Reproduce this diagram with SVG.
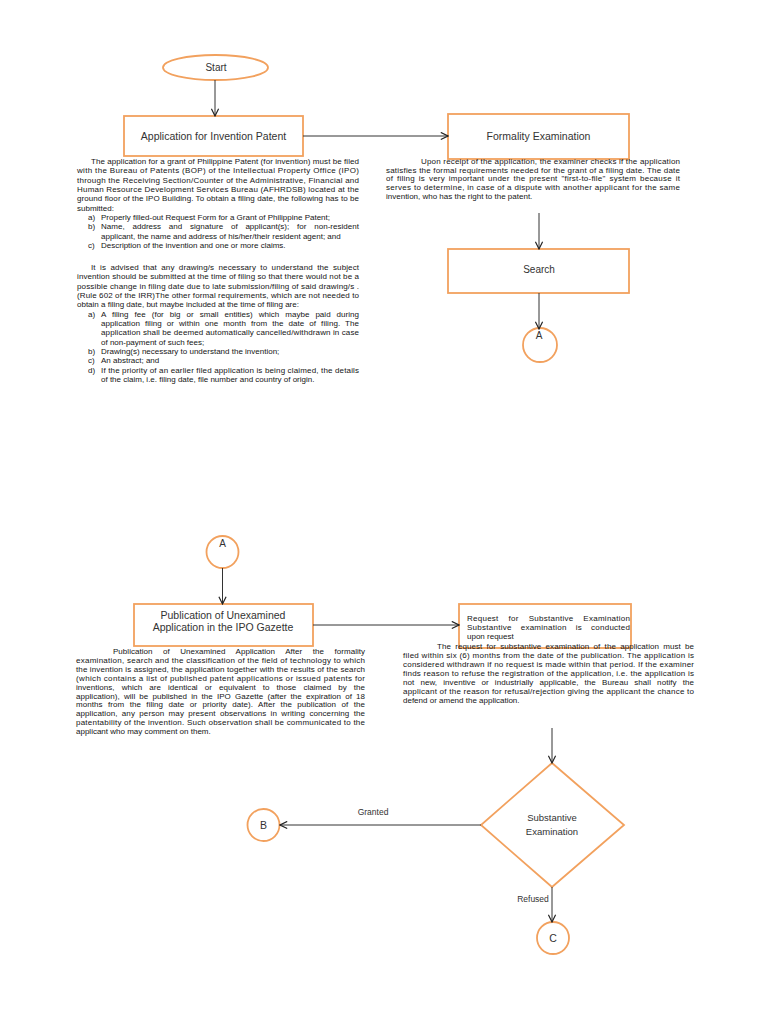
<svg xmlns="http://www.w3.org/2000/svg" width="768" height="1024" viewBox="0 0 768 1024">
<style>
.shape{fill:#fff;stroke:#F2A15E;stroke-width:1.8}
.lbl{font-family:"Liberation Sans",Arial,sans-serif;fill:#333;text-anchor:middle}
.p{font-family:"Liberation Sans",Arial,sans-serif;font-size:8px;fill:#151515}
.c{stroke:#333;stroke-width:1;fill:none;marker-end:url(#arr)}
.cl{font-family:"Liberation Sans",Arial,sans-serif;font-size:8.5px;fill:#333;text-anchor:middle}
</style>
<defs>
<marker id="arr" viewBox="0 0 10 10" refX="9" refY="5" markerWidth="9" markerHeight="9" markerUnits="userSpaceOnUse" orient="auto">
<path d="M1,1 L9,5 L1,9" fill="none" stroke="#222" stroke-width="1.3"/>
</marker>
</defs>
<rect width="768" height="1024" fill="#fff"/>

<g id="start">
<ellipse class="shape" cx="215.5" cy="67.5" rx="52.5" ry="12.5"/>
<text class="lbl" x="216" y="71" font-size="10">Start</text>
</g>
<g id="application">
<rect class="shape" x="124" y="116" width="179" height="40"/>
<text class="lbl" x="213.5" y="140" font-size="10.5">Application for Invention Patent</text>
</g>
<g id="formality">
<rect class="shape" x="448" y="114" width="181" height="45"/>
<text class="lbl" x="538.5" y="140" font-size="10.5">Formality Examination</text>
</g>
<g id="search">
<rect class="shape" x="448" y="249" width="181" height="44"/>
<text class="lbl" x="539" y="273" font-size="10">Search</text>
</g>
<g id="connectorA1">
<circle class="shape" cx="540" cy="345" r="17"/>
<text class="lbl" x="539" y="339" font-size="10">A</text>
</g>
<g id="connectorA2">
<circle class="shape" cx="222.5" cy="552" r="16"/>
<text class="lbl" x="222.5" y="547" font-size="10">A</text>
</g>
<g id="publication">
<rect class="shape" x="134" y="604" width="179" height="42"/>
<text class="lbl" x="223" y="619" font-size="10.5">Publication of Unexamined</text>
<text class="lbl" x="223" y="631" font-size="10.5">Application in the IPO Gazette</text>
</g>
<g id="request">
<rect class="shape" x="459" y="604" width="172" height="44"/>
<text class="p" font-size="8.5" x="467" y="621" word-spacing="7.5" textLength="163" lengthAdjust="spacing">Request for Substantive Examination</text>
<text class="p" font-size="8.5" x="467" y="630" word-spacing="6.5" textLength="163" lengthAdjust="spacing">Substantive examination is conducted</text>
<text class="p" font-size="8.5" x="467" y="639">upon request</text>
</g>
<g id="substantive">
<polygon class="shape" points="552,763 624,825 552,887 481,825"/>
<text class="lbl" x="552" y="821" font-size="9.5">Substantive</text>
<text class="lbl" x="552" y="835" font-size="9.5">Examination</text>
</g>
<g id="connectorB">
<circle class="shape" cx="263.5" cy="825" r="16"/>
<text class="lbl" x="263.5" y="829" font-size="10.5">B</text>
</g>
<g id="connectorC">
<circle class="shape" cx="553" cy="938" r="16"/>
<text class="lbl" x="553" y="942" font-size="10.5">C</text>
</g>

<g id="connectors">
<line class="c" x1="215" y1="80" x2="215" y2="116"/>
<line class="c" x1="303" y1="136" x2="448" y2="136"/>
<line class="c" x1="539" y1="213" x2="539" y2="249"/>
<line class="c" x1="539" y1="293" x2="539" y2="329"/>
<line class="c" x1="222.5" y1="568" x2="222.5" y2="604"/>
<line class="c" x1="313" y1="625" x2="459" y2="625"/>
<line class="c" x1="552" y1="728" x2="552" y2="763"/>
<line class="c" x1="481" y1="825" x2="280" y2="825"/>
<text class="cl" x="373" y="815">Granted</text>
<line class="c" x1="552" y1="887" x2="552" y2="922"/>
<text class="cl" x="533" y="902">Refused</text>
</g>

<g id="note-application">
<text class="p" x="91" y="164" textLength="268" lengthAdjust="spacing">The application for a grant of Philippine Patent (for invention) must be filed</text>
<text class="p" x="77" y="173.3" textLength="282" lengthAdjust="spacing">with the Bureau of Patents (BOP) of the Intellectual Property Office (IPO)</text>
<text class="p" x="77" y="182.6" textLength="282" lengthAdjust="spacing">through the Receiving Section/Counter of the Administrative, Financial and</text>
<text class="p" x="77" y="192" textLength="282" lengthAdjust="spacing">Human Resource Development Services Bureau (AFHRDSB) located at the</text>
<text class="p" x="77" y="201.3" textLength="282" lengthAdjust="spacing">ground floor of the IPO Building. To obtain a filing date, the following has to be</text>
<text class="p" x="77" y="210.6">submitted:</text>
<text class="p" x="88" y="220">a)</text>
<text class="p" x="101" y="220">Properly filled-out Request Form for a Grant of Philippine Patent;</text>
<text class="p" x="88" y="229.3">b)</text>
<text class="p" x="101" y="229.3" word-spacing="5.5" textLength="258" lengthAdjust="spacing">Name, address and signature of applicant(s); for non-resident</text>
<text class="p" x="101" y="238.6">applicant, the name and address of his/her/their resident agent; and</text>
<text class="p" x="88" y="248">c)</text>
<text class="p" x="101" y="248">Description of the invention and one or more claims.</text>

<text class="p" x="91" y="270" word-spacing="2" textLength="268" lengthAdjust="spacing">It is advised that any drawing/s necessary to understand the subject</text>
<text class="p" x="77" y="279.3" textLength="282" lengthAdjust="spacing">invention should be submitted at the time of filing so that there would not be a</text>
<text class="p" x="77" y="288.6" textLength="282" lengthAdjust="spacing">possible change in filing date due to late submission/filing of said drawing/s .</text>
<text class="p" x="77" y="298" textLength="282" lengthAdjust="spacing">(Rule 602 of the IRR)The other formal requirements, which are not needed to</text>
<text class="p" x="77" y="307.3">obtain a filing date, but maybe included at the time of filing are:</text>
<text class="p" x="88" y="316.6">a)</text>
<text class="p" x="101" y="316.6" word-spacing="3.7" textLength="258" lengthAdjust="spacing">A filing fee (for big or small entities) which maybe paid during</text>
<text class="p" x="101" y="326" word-spacing="2.7" textLength="258" lengthAdjust="spacing">application filing or within one month from the date of filing. The</text>
<text class="p" x="101" y="335.3" textLength="258" lengthAdjust="spacing">application shall be deemed automatically cancelled/withdrawn in case</text>
<text class="p" x="101" y="344.6">of non-payment of such fees;</text>
<text class="p" x="88" y="354">b)</text>
<text class="p" x="101" y="354">Drawing(s) necessary to understand the invention;</text>
<text class="p" x="88" y="363.3">c)</text>
<text class="p" x="101" y="363.3">An abstract; and</text>
<text class="p" x="88" y="372.6">d)</text>
<text class="p" x="101" y="372.6" textLength="258" lengthAdjust="spacing">If the priority of an earlier filed application is being claimed, the details</text>
<text class="p" x="101" y="382">of the claim, i.e. filing date, file number and country of origin.</text>
</g>

<g id="note-formality">
<text class="p" x="421" y="164" textLength="259" lengthAdjust="spacing">Upon receipt of the application, the examiner checks if the application</text>
<text class="p" x="386" y="172.7" textLength="294" lengthAdjust="spacing">satisfies the formal requirements needed for the grant of a filing date. The date</text>
<text class="p" x="386" y="181.4" word-spacing="1.5" textLength="294" lengthAdjust="spacing">of filing is very important under the present "first-to-file" system because it</text>
<text class="p" x="386" y="190" textLength="294" lengthAdjust="spacing">serves to determine, in case of a dispute with another applicant for the same</text>
<text class="p" x="386" y="198.7">invention, who has the right to the patent.</text>
</g>

<g id="note-publication">
<text class="p" x="113" y="654" word-spacing="8.3" textLength="252" lengthAdjust="spacing">Publication of Unexamined Application After the formality</text>
<text class="p" x="76" y="662.9" textLength="289" lengthAdjust="spacing">examination, search and the classification of the field of technology to which</text>
<text class="p" x="76" y="671.8" textLength="289" lengthAdjust="spacing">the invention is assigned, the application together with the results of the search</text>
<text class="p" x="76" y="680.7" textLength="289" lengthAdjust="spacing">(which contains a list of published patent applications or issued patents for</text>
<text class="p" x="76" y="689.6" word-spacing="4.8" textLength="289" lengthAdjust="spacing">inventions, which are identical or equivalent to those claimed by the</text>
<text class="p" x="76" y="698.5" word-spacing="1.8" textLength="289" lengthAdjust="spacing">application), will be published in the IPO Gazette (after the expiration of 18</text>
<text class="p" x="76" y="707.4" word-spacing="3.2" textLength="289" lengthAdjust="spacing">months from the filing date or priority date). After the publication of the</text>
<text class="p" x="76" y="716.3" word-spacing="2" textLength="289" lengthAdjust="spacing">application, any person may present observations in writing concerning the</text>
<text class="p" x="76" y="725.2" textLength="289" lengthAdjust="spacing">patentability of the invention. Such observation shall be communicated to the</text>
<text class="p" x="76" y="734.1">applicant who may comment on them.</text>
</g>

<g id="note-request">
<text class="p" x="437" y="649" word-spacing="2" textLength="257" lengthAdjust="spacing">The request for substantive examination of the application must be</text>
<text class="p" x="403" y="658" textLength="291" lengthAdjust="spacing">filed within six (6) months from the date of the publication. The application is</text>
<text class="p" x="403" y="667" textLength="291" lengthAdjust="spacing">considered withdrawn if no request is made within that period. If the examiner</text>
<text class="p" x="403" y="676" textLength="291" lengthAdjust="spacing">finds reason to refuse the registration of the application, i.e. the application is</text>
<text class="p" x="403" y="685" word-spacing="3.8" textLength="291" lengthAdjust="spacing">not new, inventive or industrially applicable, the Bureau shall notify the</text>
<text class="p" x="403" y="694" textLength="291" lengthAdjust="spacing">applicant of the reason for refusal/rejection giving the applicant the chance to</text>
<text class="p" x="403" y="703">defend or amend the application.</text>
</g>
</svg>
